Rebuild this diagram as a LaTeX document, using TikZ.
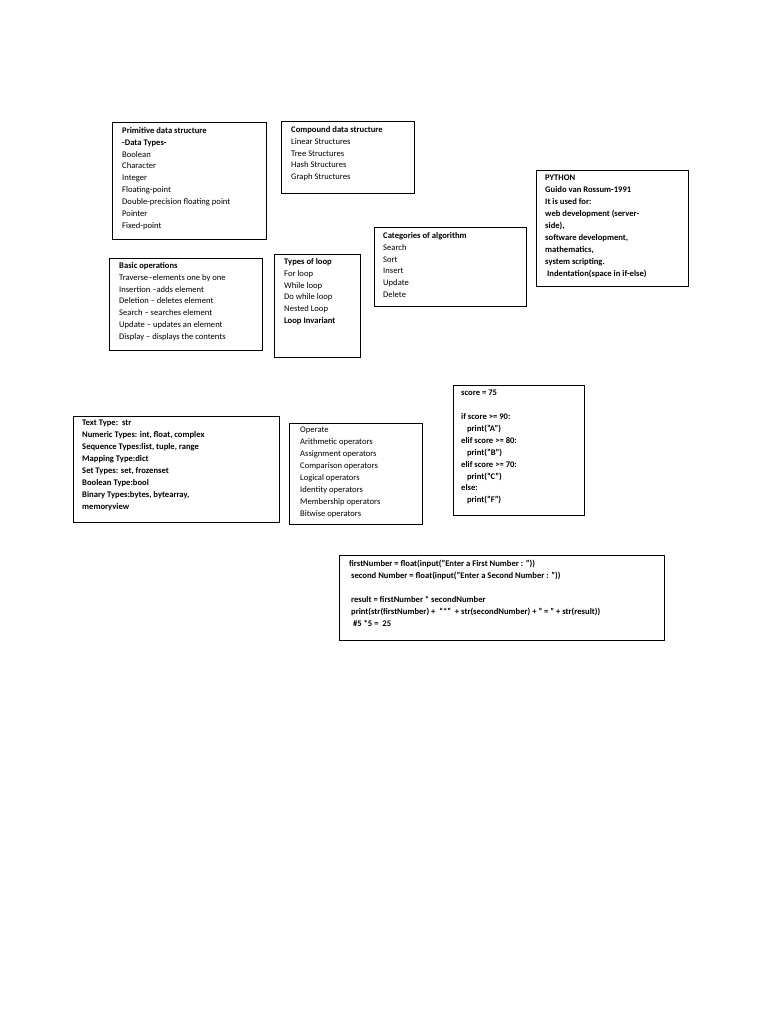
\documentclass[tikz,border=0pt]{standalone}
\usepackage{fontspec}
\setmainfont{Carlito}
\begin{document}
\begin{tikzpicture}[x=1pt,y=-1pt,
  boxs/.style={draw=black,line width=0.9pt,anchor=north west,inner sep=0pt},
  txt/.style={anchor=north west,inner sep=0pt,align=left,font=\fontsize{8.6}{11.9}\selectfont}]
\useasboundingbox (0,0) rectangle (768,1024);
\fill[white] (0,0) rectangle (768,1024);
\node[boxs,minimum width=154,minimum height=117] (b1) at (112,122) {};
\node[txt] (t1) at (122,127) {\textbf{Primitive data structure}\\\textbf{-Data Types-}\\Boolean\\Character\\Integer\\Floating-point\\Double-precision floating point\\Pointer\\Fixed-point};
\node[boxs,minimum width=133,minimum height=72] (b2) at (281,121) {};
\node[txt] (t2) at (291,126) {\textbf{Compound data structure}\\Linear Structures\\Tree Structures\\Hash Structures\\Graph Structures};
\node[boxs,minimum width=152,minimum height=116] (b3) at (536,170) {};
\node[txt] (t3) at (545,175) {\textbf{PYTHON}\\\textbf{Guido van Rossum-1991}\\\textbf{It is used for:}\\\textbf{web development (server-}\\\textbf{side),}\\\textbf{software development,}\\\textbf{mathematics,}\\\textbf{system scripting.}\\\textbf{\ Indentation(space in if-else)}};
\node[boxs,minimum width=152,minimum height=79] (b4) at (374,227) {};
\node[txt] (t4) at (383,232) {\textbf{Categories of algorithm}\\Search\\Sort\\Insert\\Update\\Delete};
\node[boxs,minimum width=153,minimum height=92] (b5) at (109,258) {};
\node[txt] (t5) at (119,262) {\textbf{Basic operations}\\Traverse--elements one by one\\Insertion --adds element\\Deletion -- deletes element\\Search -- searches element\\Update -- updates an element\\Display -- displays the contents};
\node[boxs,minimum width=86,minimum height=103] (b6) at (274,254) {};
\node[txt] (t6) at (284,258) {\textbf{Types of loop}\\For loop\\While loop\\Do while loop\\Nested Loop\\\textbf{Loop Invariant}};
\node[boxs,minimum width=206,minimum height=106] (b7) at (73,416) {};
\node[txt] (t7) at (82,420) {\textbf{Text Type:\ \ str}\\\textbf{Numeric Types: int, float, complex}\\\textbf{Sequence Types:list, tuple, range}\\\textbf{Mapping Type:dict}\\\textbf{Set Types: set, frozenset}\\\textbf{Boolean Type:bool}\\\textbf{Binary Types:bytes, bytearray,}\\\textbf{memoryview}};
\node[boxs,minimum width=133,minimum height=101] (b8) at (289,423) {};
\node[txt] (t8) at (300,427) {Operate\\Arithmetic operators\\Assignment operators\\Comparison operators\\Logical operators\\Identity operators\\Membership operators\\Bitwise operators};
\node[boxs,minimum width=131,minimum height=130] (b9) at (453,385) {};
\node[txt] (t9) at (461,390) {\textbf{score = 75}\\[11.9pt]\textbf{if score >= 90:}\\\textbf{\ \ \ print("A")}\\\textbf{elif score >= 80:}\\\textbf{\ \ \ print("B")}\\\textbf{elif score >= 70:}\\\textbf{\ \ \ print("C")}\\\textbf{else:}\\\textbf{\ \ \ print("F")}};
\node[boxs,minimum width=325,minimum height=85] (b10) at (339,555) {};
\node[txt] (t10) at (349,560) {\textbf{firstNumber = float(input("Enter a First Number : "))}\\\textbf{\ second Number = float(input("Enter a Second Number : "))}\\[11.9pt]\textbf{\ result = firstNumber * secondNumber}\\\textbf{\ print(str(firstNumber) +\ \ “*”\ \ + str(secondNumber) + " = " + str(result))}\\\textbf{\ \ \#5 *5 =\ \ 25}};
\end{tikzpicture}
\end{document}
